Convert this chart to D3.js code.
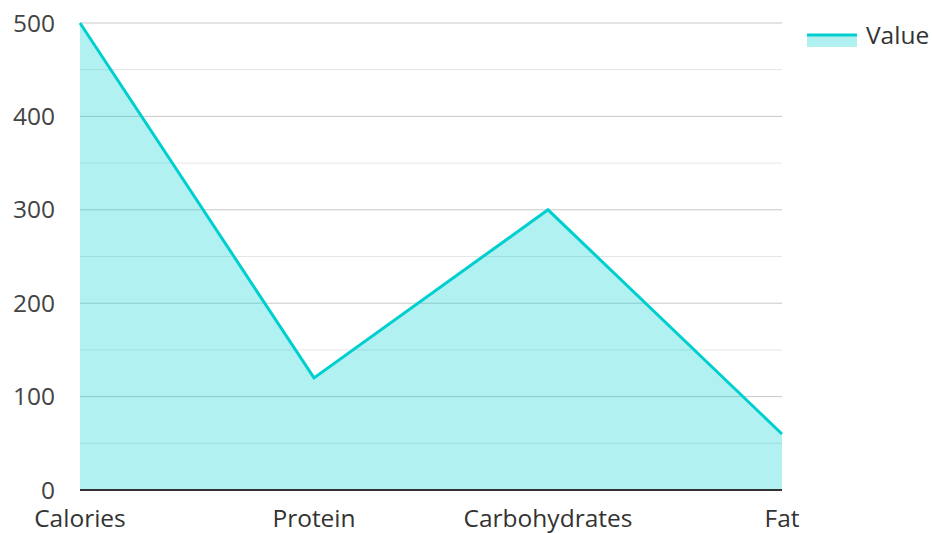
<!DOCTYPE html>
<html lang="en">
<head>
  <meta charset="UTF-8">
  <title>Nutrition Area Chart</title>
  <style>
    body { margin: 0; background: #fff; }
    text { font-family: "Open Sans", "Noto Sans", sans-serif; }
  </style>
</head>
<body>
<div id="chart"></div>
<script src="https://d3js.org/d3.v7.min.js"></script>
<script>
  const categories = ["Calories", "Protein", "Carbohydrates", "Fat"];
  const values = [500, 120, 300, 60];
  const yTicks = [0, 100, 200, 300, 400, 500];
  const seriesName = "Value";

  const width = 932, height = 533;
  const margin = { top: 23, right: 150, bottom: 43, left: 80 };
  const lineColor = "#00cfcf";
  const fontSize = "24.5px";

  const svg = d3.select("#chart").append("svg")
    .attr("width", width)
    .attr("height", height);

  const x = d3.scalePoint()
    .domain(categories)
    .range([margin.left, width - margin.right]);

  const y = d3.scaleLinear()
    .domain([0, 500])
    .range([height - margin.bottom, margin.top]);

  // minor grid
  svg.append("g")
    .selectAll("line")
    .data(d3.range(50, 500, 100))
    .enter().append("line")
    .attr("x1", margin.left).attr("x2", width - margin.right)
    .attr("y1", d => y(d)).attr("y2", d => y(d))
    .attr("stroke", "#e6e6e6").attr("stroke-width", 1);

  // major grid
  svg.append("g")
    .selectAll("line")
    .data(yTicks.slice(1))
    .enter().append("line")
    .attr("x1", margin.left).attr("x2", width - margin.right)
    .attr("y1", d => y(d)).attr("y2", d => y(d))
    .attr("stroke", "#c8c8c8").attr("stroke-width", 1);

  const area = d3.area()
    .x((d, i) => x(categories[i]))
    .y0(y(0))
    .y1(d => y(d));

  const line = d3.line()
    .x((d, i) => x(categories[i]))
    .y(d => y(d));

  svg.append("path")
    .datum(values)
    .attr("d", area)
    .attr("fill", lineColor)
    .attr("fill-opacity", 0.3);

  svg.append("path")
    .datum(values)
    .attr("d", line)
    .attr("fill", "none")
    .attr("stroke", lineColor)
    .attr("stroke-width", 3);

  // x axis line
  svg.append("line")
    .attr("x1", margin.left).attr("x2", width - margin.right)
    .attr("y1", y(0)).attr("y2", y(0))
    .attr("stroke", "#333").attr("stroke-width", 2);

  // y tick labels
  svg.append("g")
    .selectAll("text")
    .data(yTicks)
    .enter().append("text")
    .attr("x", 55)
    .attr("y", d => y(d))
    .attr("dy", "0.35em")
    .attr("text-anchor", "end")
    .attr("fill", "#444")
    .style("font-size", fontSize)
    .text(d => d);

  // x tick labels
  svg.append("g")
    .selectAll("text")
    .data(categories)
    .enter().append("text")
    .attr("x", d => x(d))
    .attr("y", y(0) + 37)
    .attr("text-anchor", "middle")
    .attr("fill", "#333")
    .style("font-size", fontSize)
    .text(d => d);

  // legend
  const legend = svg.append("g").attr("transform", "translate(807,35)");
  legend.append("rect")
    .attr("x", 0).attr("y", 0)
    .attr("width", 50).attr("height", 12)
    .attr("fill", lineColor).attr("fill-opacity", 0.3);
  legend.append("line")
    .attr("x1", 0).attr("x2", 50)
    .attr("y1", 0).attr("y2", 0)
    .attr("stroke", lineColor).attr("stroke-width", 3);
  legend.append("text")
    .attr("x", 59).attr("y", 0)
    .attr("dy", "0.35em")
    .attr("fill", "#333")
    .style("font-size", fontSize)
    .text(seriesName);
</script>
</body>
</html>
